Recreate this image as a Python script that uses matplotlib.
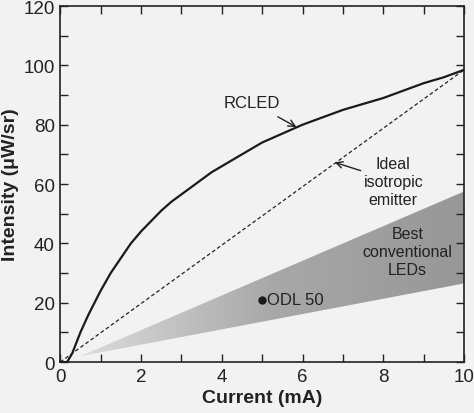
import matplotlib
matplotlib.use("Agg")
import numpy as np
import matplotlib.pyplot as plt
from matplotlib.patches import Polygon

# data
rcled_x = [0, 0.17, 0.3, 0.5, 0.7, 1, 1.25, 1.5, 1.75, 2, 2.25, 2.5, 2.75, 3, 3.25, 3.5,
           3.75, 4, 4.5, 5, 5.5, 6, 6.5, 7, 7.5, 8, 8.5, 9, 9.5, 10]
rcled_y = [0, 0, 3, 10, 16, 24, 30, 35, 40, 44, 47.5, 51, 54, 56.5, 59, 61.5,
           64, 66, 70, 74, 77, 80, 82.5, 85, 87, 89, 91.5, 94, 96, 98.5]
ideal_x = [0, 10]
ideal_y = [0, 98.5]
band_x = [0.5, 10]
band_lo = [2, 26.5]
band_hi = [2, 57.5]
odl_x, odl_y = 5.0, 21.0

plt.rcParams['font.family'] = ['Liberation Sans', 'DejaVu Sans']

fig = plt.figure(figsize=(4.74, 4.14), dpi=100)
fig.patch.set_facecolor('#f2f2f2')
ax = fig.add_axes([0.127, 0.123, 0.852, 0.860])
ax.set_facecolor('#f2f2f2')

# shaded band, light on the left, darker on the right
verts = list(zip(band_x, band_lo)) + list(zip(band_x[::-1], band_hi[::-1]))
poly = Polygon(verts, closed=True, facecolor='none', edgecolor='none')
ax.add_patch(poly)
grad = np.linspace(0.0, 1.0, 256).reshape(1, -1)
cmap = matplotlib.colors.LinearSegmentedColormap.from_list('band', ['#dcdcdc', '#a8a8a8', '#979797'])
im = ax.imshow(grad, extent=[band_x[0], band_x[1], 0, 60], aspect='auto',
               cmap=cmap, origin='lower', zorder=1)
im.set_clip_path(poly)

ax.plot(ideal_x, ideal_y, color='#222222', lw=0.9, ls=(0, (3, 2)), zorder=2)
ax.plot(rcled_x, rcled_y, color='#1a1a1a', lw=1.6, zorder=3)
ax.plot([odl_x], [odl_y], 'o', color='#1a1a1a', ms=5, zorder=4)

ax.text(odl_x + 0.12, odl_y, 'ODL 50', fontsize=12, va='center', ha='left', color='#222222')
ax.annotate('RCLED', xy=(5.85, 79.2), xytext=(4.75, 87.5), fontsize=12, ha='center', va='center',
            color='#222222', arrowprops=dict(arrowstyle='->', color='#222222', lw=1.0,
                                             shrinkA=6, shrinkB=0))
ax.annotate('Ideal\nisotropic\nemitter', xy=(6.8, 67.3), xytext=(8.25, 61), fontsize=11.5,
            ha='center', va='center', color='#222222', linespacing=1.25,
            arrowprops=dict(arrowstyle='->', color='#222222', lw=1.0, shrinkA=30, shrinkB=0))
ax.text(8.6, 37.3, 'Best\nconventional\nLEDs', fontsize=11.5, ha='center', va='center',
        color='#222222', linespacing=1.25)

ax.set_xlim(0, 10)
ax.set_ylim(0, 120)
ax.set_xticks([0, 2, 4, 6, 8, 10])
ax.set_xticks(np.arange(0, 11, 1), minor=True)
ax.set_yticks(np.arange(0, 121, 20))
ax.set_yticks(np.arange(0, 121, 10), minor=True)
ax.tick_params(which='both', direction='in', top=True, right=True, length=6, width=1.0,
               color='#222222', labelsize=13.5, labelcolor='#222222', pad=4)
for s in ax.spines.values():
    s.set_linewidth(1.2)
    s.set_color('#222222')

ax.set_xlabel('Current (mA)', fontsize=14, fontweight='bold', color='#222222', labelpad=3)
ax.set_ylabel('Intensity (\u03bcW/sr)', fontsize=14, fontweight='bold', color='#222222',
              va='center')
ax.yaxis.set_label_coords(-0.122, 0.5)

fig.savefig('out.png', dpi=100, facecolor=fig.get_facecolor())
